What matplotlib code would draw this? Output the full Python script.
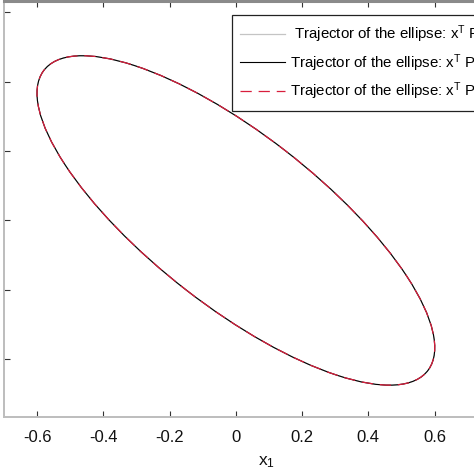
import matplotlib
matplotlib.use('Agg')
import matplotlib.pyplot as plt
from matplotlib.patches import Ellipse
from matplotlib.lines import Line2D

plt.rcParams['font.family'] = ['Liberation Sans', 'DejaVu Sans']
plt.rcParams['mathtext.fontset'] = 'custom'
plt.rcParams['mathtext.rm'] = 'Liberation Sans'
plt.rcParams['mathtext.it'] = 'Liberation Sans'
plt.rcParams['mathtext.default'] = 'regular'

# ---- data ----
series_labels = [
    ' Trajector of the ellipse: x$^T$ P$_1$ x = 1',
    'Trajector of the ellipse: x$^T$ P$_2$ x = 1',
    'Trajector of the ellipse: x$^T$ P$_3$ x = 1',
]
center_x = [0.0, 0.0, 0.0]
center_y = [0.0, 0.0, 0.0]
full_major = [1.447, 1.447, 1.447]
full_minor = [0.501, 0.501, 0.501]
rotation_deg = [-36.5, -36.5, -36.5]
x_ticks = [-0.6, -0.4, -0.2, 0.0, 0.2, 0.4, 0.6, 0.8]
x_tick_labels = ['-0.6', '-0.4', '-0.2', '0', '0.2', '0.4', '0.6', '0.8']
y_ticks = [-0.4, -0.2, 0.0, 0.2, 0.4, 0.6]
y_tick_labels = ['-0.4', '-0.2', '0', '0.2', '0.4', '0.6']
x_label = 'x$_1$'
y_label = 'x$_2$'

# ---- styles ----
colors = ['#c4c4c4', '#000000', '#d81e3c']
styles = ['-', '-', (0, (9, 5.5))]
widths = [0.9, 0.8, 0.9]

fig = plt.figure(figsize=(4.74, 4.74), dpi=100)
fig.patch.set_facecolor('white')
ax = fig.add_axes([4 / 474, 57 / 474, 530 / 474, 416 / 474])
ax.set_xlim(-0.7, 0.9)
ax.set_ylim(-0.567, 0.633)

handles = []
for i in range(3):
    e = Ellipse((center_x[i], center_y[i]), full_major[i], full_minor[i],
                angle=rotation_deg[i], fill=False, edgecolor=colors[i],
                linestyle=styles[i], linewidth=widths[i], zorder=2 + i)
    ax.add_patch(e)
    handles.append(Line2D([], [], color=colors[i], linestyle=styles[i],
                          linewidth=widths[i]))

ax.set_xticks(x_ticks)
ax.set_xticklabels(x_tick_labels)
ax.set_yticks(y_ticks)
ax.set_yticklabels(y_tick_labels)
ax.tick_params(which='both', direction='in', top=True, right=True,
               length=4, width=0.8, color='#333333', labelsize=12,
               labelcolor='#111111', pad=9.5)

for side in ['left', 'bottom', 'right']:
    ax.spines[side].set_color('#bdbdbd')
    ax.spines[side].set_linewidth(1.4)
ax.spines['top'].set_color('#8a8a8a')
ax.spines['top'].set_linewidth(2.2)

ax.set_xlabel(x_label, fontsize=12.5, color='#111111')
ax.xaxis.set_label_coords(0.495, -0.09)
ax.set_ylabel(y_label, fontsize=12.5)

leg = ax.legend(handles, series_labels, loc='upper left',
                bbox_to_anchor=(0.4302, 0.9663), borderaxespad=0,
                fontsize=10.8, fancybox=False, framealpha=1,
                edgecolor='#222222', handlelength=3.0, handletextpad=0.3,
                labelspacing=0.48, borderpad=0.55)
leg.get_frame().set_linewidth(0.9)

fig.savefig('out.png', dpi=100, facecolor='white')
